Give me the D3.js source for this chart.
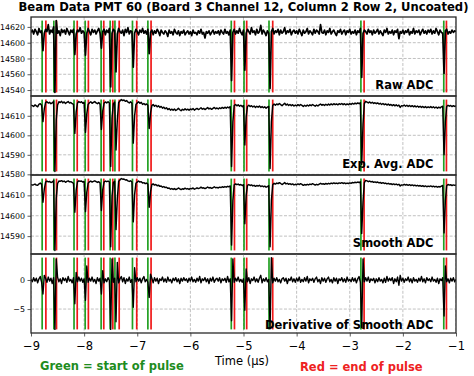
<!DOCTYPE html>
<html><head><meta charset="utf-8">
<script src="https://cdn.jsdelivr.net/npm/d3@7/dist/d3.min.js"></script>
<style>
html,body{margin:0;padding:0;background:#fff;}
svg{display:block;font-family:"DejaVu Sans",sans-serif;}
</style></head><body>
<svg id="c" width="474" height="376"></svg>
<script>
// ---- DATA ----
const title = "Beam Data PMT 60 (Board 3 Channel 12, Column 2 Row 2, Uncoated)";
const timeStart = -9, timeStep = 0.025; // sample grid (µs)
const xTicks = [-9,-8,-7,-6,-5,-4,-3,-2,-1];
const pulseStarts = [-8.79,-8.57,-8.19,-7.98,-7.68,-7.51,-7.42,-7.09,-6.80,-5.23,-4.99,-4.52,-2.79,-1.23];
const pulseEnds   = [-8.72,-8.52,-8.13,-7.92,-7.63,-7.46,-7.34,-7.01,-6.74,-5.17,-4.94,-4.45,-2.73,-1.18];
const panelLabels = ["Raw ADC","Exp. Avg. ADC","Smooth ADC","Derivative of Smooth ADC"];
const yTicksRaw = [14540,14560,14580,14600,14620];
const yTicksExp = [14580,14590,14600,14610];
const yTicksSmooth = [14590,14600,14610];
const yTicksDeriv = [-5,0];

const rawADC = [
14613,14616,14611,14617,14614,14610,14618,14613,14615,14590,14612,14617,14614,14623,14611,14616,14613,14620,14537,14628,
14612,14615,14609,14617,14613,14616,14611,14618,14614,14610,14616,14613,14617,14585,14611,14616,14614,14619,14612,14615,
14613,14584,14612,14618,14614,14610,14617,14613,14616,14611,14615,14618,14612,14593,14614,14617,14610,14616,14613,14618,
14544,14612,14617,14615,14563,14611,14618,14614,14612,14616,14609,14617,14613,14619,14611,14615,14614,14569,14612,14617,
14614,14610,14616,14613,14618,14612,14615,14611,14617,14586,14613,14616,14610,14615,14612,14617,14614,14609,14616,14613,
14611,14615,14613,14608,14616,14612,14614,14610,14617,14613,14611,14615,14609,14614,14612,14616,14610,14613,14615,14611,
14614,14609,14616,14612,14613,14610,14615,14612,14617,14611,14613,14606,14614,14612,14615,14610,14613,14616,14611,14614,
14612,14615,14610,14616,14613,14611,14617,14612,14614,14610,14616,14552,14613,14617,14611,14615,14612,14618,14613,14610,
14616,14565,14612,14617,14614,14611,14619,14613,14615,14610,14617,14612,14614,14622,14611,14616,14613,14609,14615,14612,
14542,14614,14618,14611,14615,14613,14617,14610,14616,14612,14614,14619,14611,14615,14613,14617,14610,14614,14616,14612,
14615,14611,14617,14613,14609,14616,14612,14614,14618,14611,14615,14613,14610,14617,14612,14616,14614,14611,14623,14613,
14612,14616,14610,14615,14613,14618,14611,14614,14616,14612,14609,14615,14613,14617,14611,14614,14616,14610,14615,14613,
14617,14611,14614,14612,14616,14610,14615,14613,14618,14556,14612,14616,14614,14611,14617,14613,14615,14610,14616,14612,
14614,14617,14611,14615,14612,14609,14616,14613,14618,14611,14614,14612,14616,14610,14615,14613,14617,14605,14614,14612,
14616,14611,14615,14613,14617,14610,14614,14612,14618,14611,14615,14613,14616,14610,14614,14617,14612,14615,14611,14616,
14613,14617,14611,14615,14612,14618,14614,14610,14616,14613,14612,14561,14615,14617,14611,14614,14612,14616,14613,14615,
14614];

const expAvgADC = [
14615.5,14615.2,14614.8,14615.6,14615.1,14614.6,14615.8,14616.2,14615.4,14607,14613.5,14616.8,14617.2,14616.5,14616.9,14616.2,14616.6,14617.4,14581.5,14608,
14615.5,14617.2,14616.8,14617.4,14616.6,14617.1,14616.3,14616.9,14617.3,14616.5,14616.8,14616.2,14615.8,14601,14612,14616.5,14617.3,14616.8,14617.2,14616.4,
14616.9,14601.5,14611,14615.8,14616.7,14617.2,14616.4,14616.9,14617.3,14616.6,14616.2,14616.8,14615.9,14603,14612.5,14616.4,14617.1,14616.6,14617.2,14616.5,
14584,14609,14616.2,14617.0,14592.5,14608,14616.8,14617.6,14618.3,14617.8,14618.1,14617.4,14617.8,14617.0,14616.6,14617.2,14616.4,14596,14610,14615.8,
14616.6,14617.2,14616.4,14616.9,14615.8,14616.3,14615.6,14616.1,14615.4,14603.5,14611.5,14615.2,14615.8,14614.9,14615.4,14614.6,14615.1,14614.3,14614.8,14613.9,
14614.4,14613.6,14614.1,14613.2,14613.7,14612.9,14613.4,14612.8,14613.5,14612.7,14613.2,14613.8,14613.1,14612.6,14613.3,14612.9,14613.6,14613.0,14613.4,14612.8,
14613.5,14613.1,14613.7,14612.9,14613.4,14613.8,14613.2,14613.6,14614.1,14613.4,14613.8,14613.2,14613.7,14614.2,14613.5,14613.9,14613.3,14613.8,14614.3,14613.6,
14614.0,14613.5,14614.1,14613.7,14614.3,14613.8,14614.4,14613.9,14614.5,14614.1,14614.7,14584,14607,14615.2,14615.8,14615.1,14615.6,14614.9,14615.4,14614.7,
14615.3,14595,14609.5,14614.8,14615.4,14614.7,14615.2,14614.5,14615.0,14614.3,14614.9,14614.4,14615.0,14614.2,14614.7,14614.1,14614.6,14613.9,14614.4,14614.8,
14583,14607,14615.3,14616.0,14615.4,14616.1,14615.6,14616.3,14615.7,14615.2,14615.8,14616.4,14615.5,14616.0,14615.3,14615.8,14615.2,14615.7,14615.0,14615.5,
14615.1,14615.7,14615.2,14615.8,14615.3,14614.8,14615.4,14614.9,14615.5,14615.0,14615.6,14615.2,14615.8,14615.3,14614.9,14615.5,14615.0,14615.6,14616.0,14615.4,
14615.8,14615.3,14615.9,14615.4,14616.0,14615.5,14616.1,14615.6,14616.2,14615.7,14616.1,14615.6,14616.2,14615.8,14616.3,14615.7,14616.2,14615.6,14616.1,14615.7,
14616.2,14615.8,14616.4,14616.0,14616.5,14616.1,14616.6,14616.2,14616.7,14585,14606,14616.3,14617.4,14617.0,14616.6,14617.1,14616.5,14616.9,14616.3,14616.7,
14616.2,14616.6,14616.0,14616.4,14615.8,14616.3,14615.7,14616.1,14615.5,14616.0,14615.4,14615.8,14615.2,14615.7,14615.1,14615.6,14615.0,14615.5,14614.3,14615.2,
14615.0,14615.5,14614.9,14615.4,14614.8,14615.3,14614.7,14615.2,14614.6,14615.1,14614.5,14615.0,14614.4,14614.9,14614.3,14614.8,14614.2,14614.7,14614.1,14614.6,
14614.2,14614.7,14614.1,14614.6,14614.0,14614.5,14613.9,14614.4,14614.0,14614.6,14614.9,14590,14607,14614.8,14615.4,14614.9,14615.3,14614.7,14615.2,14614.8,
14615.0];

const smoothADC = [
14615.3,14615.0,14615.2,14615.5,14615.0,14614.9,14615.6,14616.0,14615.5,14606.6,14613.0,14616.5,14617.0,14616.6,14616.8,14616.3,14616.5,14617.2,14583,14608.5,
14615.8,14617.0,14616.9,14617.2,14616.7,14617.0,14616.4,14616.8,14617.1,14616.6,14616.7,14616.3,14615.9,14601.7,14612.5,14616.6,14617.1,14616.9,14617.0,14616.5,
14616.8,14602,14611.5,14615.9,14616.6,14617.0,14616.5,14616.8,14617.1,14616.7,14616.3,14616.7,14616.0,14602.6,14612.8,14616.5,14617.0,14616.7,14617.0,14616.6,
14584.8,14609.5,14616.3,14616.9,14593.2,14608.5,14616.9,14617.5,14618.2,14617.9,14618.0,14617.5,14617.6,14617.1,14616.8,14617.1,14616.5,14597,14610.5,14615.9,
14616.5,14617.0,14616.5,14616.7,14616.0,14616.2,14615.7,14616.0,14615.5,14604.2,14611.8,14615.3,14615.6,14615.0,14615.3,14614.7,14615.0,14614.4,14614.6,14614.0,
14614.3,14613.8,14614.0,14613.4,14613.6,14613.0,14613.3,14612.9,14613.3,14612.8,14613.1,14613.6,14613.2,14612.8,14613.2,14613.0,14613.5,14613.1,14613.3,14612.9,
14613.4,14613.2,14613.6,14613.0,14613.3,14613.7,14613.3,14613.5,14614.0,14613.5,14613.7,14613.3,14613.6,14614.1,14613.6,14613.8,14613.4,14613.7,14614.2,14613.7,
14613.9,14613.6,14614.0,14613.8,14614.2,14613.9,14614.3,14614.0,14614.4,14614.2,14614.6,14585.6,14607.5,14615.1,14615.6,14615.2,14615.5,14615.0,14615.3,14614.8,
14615.2,14596.1,14610,14614.9,14615.3,14614.8,14615.1,14614.6,14614.9,14614.4,14614.8,14614.5,14614.9,14614.3,14614.6,14614.2,14614.5,14614.0,14614.3,14614.7,
14584.8,14607.5,14615.2,14615.9,14615.5,14616.0,14615.7,14616.2,14615.8,14615.3,14615.7,14616.3,14615.6,14615.9,14615.4,14615.7,14615.3,14615.6,14615.1,14615.4,
14615.2,14615.6,14615.3,14615.7,14615.4,14614.9,14615.3,14615.0,14615.4,14615.1,14615.5,14615.3,14615.7,14615.4,14615.0,14615.4,14615.1,14615.5,14615.9,14615.5,
14615.7,14615.4,14615.8,14615.5,14615.9,14615.6,14616.0,14615.7,14616.1,14615.8,14616.0,14615.7,14616.1,14615.9,14616.2,14615.8,14616.1,14615.7,14616.0,14615.8,
14616.1,14615.9,14616.3,14616.1,14616.4,14616.2,14616.5,14616.3,14616.6,14591.3,14607,14616.2,14617.3,14617.1,14616.7,14617.0,14616.6,14616.8,14616.4,14616.6,
14616.3,14616.5,14616.1,14616.3,14615.9,14616.2,14615.8,14616.0,14615.6,14615.9,14615.5,14615.7,14615.3,14615.6,14615.2,14615.5,14615.1,14615.4,14614.6,14615.1,
14615.0,14615.4,14615.0,14615.3,14614.9,14615.2,14614.8,14615.1,14614.7,14615.0,14614.6,14614.9,14614.5,14614.8,14614.4,14614.7,14614.3,14614.6,14614.2,14614.5,
14614.3,14614.6,14614.2,14614.5,14614.1,14614.4,14614.0,14614.3,14614.1,14614.5,14614.8,14591.6,14607.5,14614.7,14615.3,14615.0,14615.2,14614.8,14615.1,14614.9,
14615.0];

const derivSmoothADC = [
0.1,-0.3,0.4,-0.2,0.3,-0.5,0.2,0.6,-0.4,-2.4,0.8,0.3,-0.4,0.5,-0.2,0.3,-0.6,0.4,-8.5,3.6,
0.5,-0.3,0.2,-0.6,0.4,-0.1,0.3,-0.4,0.6,-0.2,0.1,-0.5,0.4,-4.1,1.3,-0.3,0.5,-0.2,0.3,-0.4,
0.2,-3.5,2.4,-0.4,0.3,-0.2,0.5,-0.3,0.1,-0.6,0.4,-0.2,0.3,-2.4,1.6,-0.5,0.2,-0.3,0.4,-0.1,
-8.5,3.6,-0.4,0.3,-7.2,3.0,-0.5,0.2,0.6,-0.3,0.4,-0.6,0.2,-0.2,0.5,-0.4,0.1,-4.7,2.1,-0.3,
0.4,-0.2,0.3,-0.5,0.2,0.6,-0.3,0.1,-0.4,-3.0,1.0,0.3,-0.5,0.4,-0.2,0.3,-0.6,0.2,-0.1,0.5,
-0.3,0.2,-0.4,0.5,-0.2,0.1,-0.5,0.3,-0.1,0.4,-0.3,0.2,-0.6,0.3,-0.2,0.4,-0.1,0.2,-0.4,0.3,
-0.2,0.5,-0.3,0.1,-0.4,0.3,-0.2,0.6,-0.5,0.2,-0.1,0.4,-0.3,0.2,-0.6,0.3,-0.2,0.5,-0.4,0.1,
0.3,-0.2,0.4,-0.5,0.2,-0.1,0.3,-0.4,0.6,-0.3,0.2,-7.0,3.6,-0.4,0.3,-0.2,0.5,-0.3,0.1,-0.4,
0.2,-5.2,1.9,-0.3,0.4,-0.6,0.2,-0.1,0.5,-0.3,0.2,-0.4,0.3,0.8,-0.5,0.2,-0.2,0.4,-0.3,0.1,
-8.4,3.85,-0.5,0.3,-0.2,0.4,-0.3,0.1,-0.5,0.2,0.4,-0.2,0.3,-0.6,0.2,-0.1,0.5,-0.3,0.2,-0.4,
0.3,-0.2,0.5,-0.4,0.1,-0.3,0.4,-0.2,0.6,-0.5,0.2,-0.1,0.3,-0.4,0.2,0.5,-0.3,0.1,-0.6,0.4,
-0.2,0.3,-0.4,0.2,0.5,-0.3,0.1,-0.5,0.4,-0.2,0.3,-0.6,0.2,-0.1,0.4,-0.3,0.2,-0.4,0.5,-0.2,
0.1,-0.3,0.4,-0.2,0.3,-0.5,0.2,0.6,-0.4,-8.2,3.6,-0.3,0.4,-0.2,0.5,-0.4,0.2,-0.1,0.3,-0.5,
0.2,-0.3,0.4,-0.2,0.1,-0.5,0.3,-0.4,0.6,-0.2,0.3,-0.1,0.4,-0.6,0.2,-0.3,0.5,-0.9,0.8,-0.2,
0.3,-0.4,0.2,-0.1,0.5,-0.3,0.2,-0.5,0.4,-0.2,0.1,-0.4,0.3,-0.2,0.6,-0.3,0.2,-0.5,0.4,-0.1,
0.2,-0.3,0.5,-0.2,0.1,-0.4,0.3,-0.6,0.2,-0.1,0.4,-6.2,2.4,-0.3,0.2,-0.5,0.3,-0.2,0.4,-0.3,
0.1];

// ---- LAYOUT ----
const L = 31, R = 456;
const panelTops = [17, 96, 175, 254];
const panelH = 79;
const labelOffsets = [7, 7.5, 6.8, 4];
const traceWidths = [1.7, 1.45, 1.45, 1.4];
const series = [rawADC, expAvgADC, smoothADC, derivSmoothADC];
const yTickSets = [yTicksRaw, yTicksExp, yTicksSmooth, yTicksDeriv];

const GREEN = "#22a022", RED = "#f01818";
const svg = d3.select("#c");
const x = d3.scaleLinear().domain([-9, -1]).range([L, R]);
const fmt = d3.format("d");

series.forEach((vals, p) => {
  const top = panelTops[p], bot = top + panelH;
  const ext = d3.extent(vals);
  const pad = (ext[1] - ext[0]) * 0.05;
  const y = d3.scaleLinear().domain([ext[0] - pad, ext[1] + pad]).range([bot, top]);
  const g = svg.append("g");
  const cid = "clip" + p;
  svg.append("clipPath").attr("id", cid).append("rect")
    .attr("x", L).attr("y", top).attr("width", R - L).attr("height", panelH);

  // grid
  const grid = g.append("g").attr("clip-path", `url(#${cid})`);
  grid.selectAll("line.vx").data(xTicks).join("line")
    .attr("x1", d => x(d)).attr("x2", d => x(d)).attr("y1", top).attr("y2", bot)
    .attr("stroke", "#b0b0b0").attr("stroke-width", 0.8).attr("stroke-dasharray", "3,1.6");
  grid.selectAll("line.hy").data(yTickSets[p]).join("line")
    .attr("x1", L).attr("x2", R).attr("y1", d => y(d)).attr("y2", d => y(d))
    .attr("stroke", "#b0b0b0").attr("stroke-width", 0.8).attr("stroke-dasharray", "3,1.6");

  // pulse markers (span data extent)
  const mk = g.append("g").attr("clip-path", `url(#${cid})`);
  mk.selectAll("line.s").data(pulseStarts).join("line")
    .attr("x1", d => x(d)).attr("x2", d => x(d)).attr("y1", y(ext[0])).attr("y2", y(ext[1]))
    .attr("stroke", GREEN).attr("stroke-width", 1.7);
  mk.selectAll("line.e").data(pulseEnds).join("line")
    .attr("x1", d => x(d)).attr("x2", d => x(d)).attr("y1", y(ext[0])).attr("y2", y(ext[1]))
    .attr("stroke", RED).attr("stroke-width", 1.7);

  // trace
  const line = d3.line().x((d, i) => x(timeStart + i * timeStep)).y(d => y(d));
  g.append("path").attr("clip-path", `url(#${cid})`).datum(vals)
    .attr("d", line).attr("fill", "none").attr("stroke", "#000").attr("stroke-width", traceWidths[p])
    .attr("stroke-linejoin", "round");

  // y axis
  const ya = g.append("g").attr("transform", `translate(${L},0)`)
    .call(d3.axisLeft(y).tickValues(yTickSets[p]).tickFormat(fmt).tickSize(3.5).tickPadding(2.5));
  ya.select(".domain").remove();
  ya.selectAll("text").attr("font-size", 7.9).attr("font-family", "DejaVu Sans").attr("fill", "#000");
  ya.selectAll("line").attr("stroke", "#333").attr("stroke-width", 0.8);

  // frame
  g.append("rect").attr("x", L).attr("y", top).attr("width", R - L).attr("height", panelH)
    .attr("fill", "none").attr("stroke", "#2a2a2a").attr("stroke-width", 1.3);

  // label
  g.append("text").attr("x", 433.5).attr("y", bot - labelOffsets[p])
    .attr("text-anchor", "end").attr("font-weight", "bold").attr("font-size", 11.5)
    .text(panelLabels[p]);

  if (p === 3) {
    const xa = svg.append("g").attr("transform", `translate(0,${bot})`)
      .call(d3.axisBottom(x).tickValues(xTicks).tickFormat(fmt).tickSize(3.5).tickPadding(5));
    xa.select(".domain").remove();
    xa.selectAll("text").attr("font-size", 11.5).attr("font-family", "DejaVu Sans").attr("fill", "#000");
    xa.selectAll("line").attr("stroke", "#333").attr("stroke-width", 0.8);
  }
});

svg.append("text").attr("x", 243.5).attr("y", 11).attr("text-anchor", "middle")
  .attr("font-weight", "bold").attr("font-size", 11.6).text(title);
svg.append("text").attr("x", 242).attr("y", 365).attr("text-anchor", "middle")
  .attr("font-size", 11.5).text("Time (\u00b5s)");
svg.append("text").attr("x", 40).attr("y", 370).attr("font-weight", "bold")
  .attr("font-size", 11.5).attr("fill", "#1e8c1e").text("Green = start of pulse");
svg.append("text").attr("x", 300).attr("y", 371).attr("font-weight", "bold")
  .attr("font-size", 11.5).attr("fill", "#ee2222").text("Red = end of pulse");
</script>
</body></html>
